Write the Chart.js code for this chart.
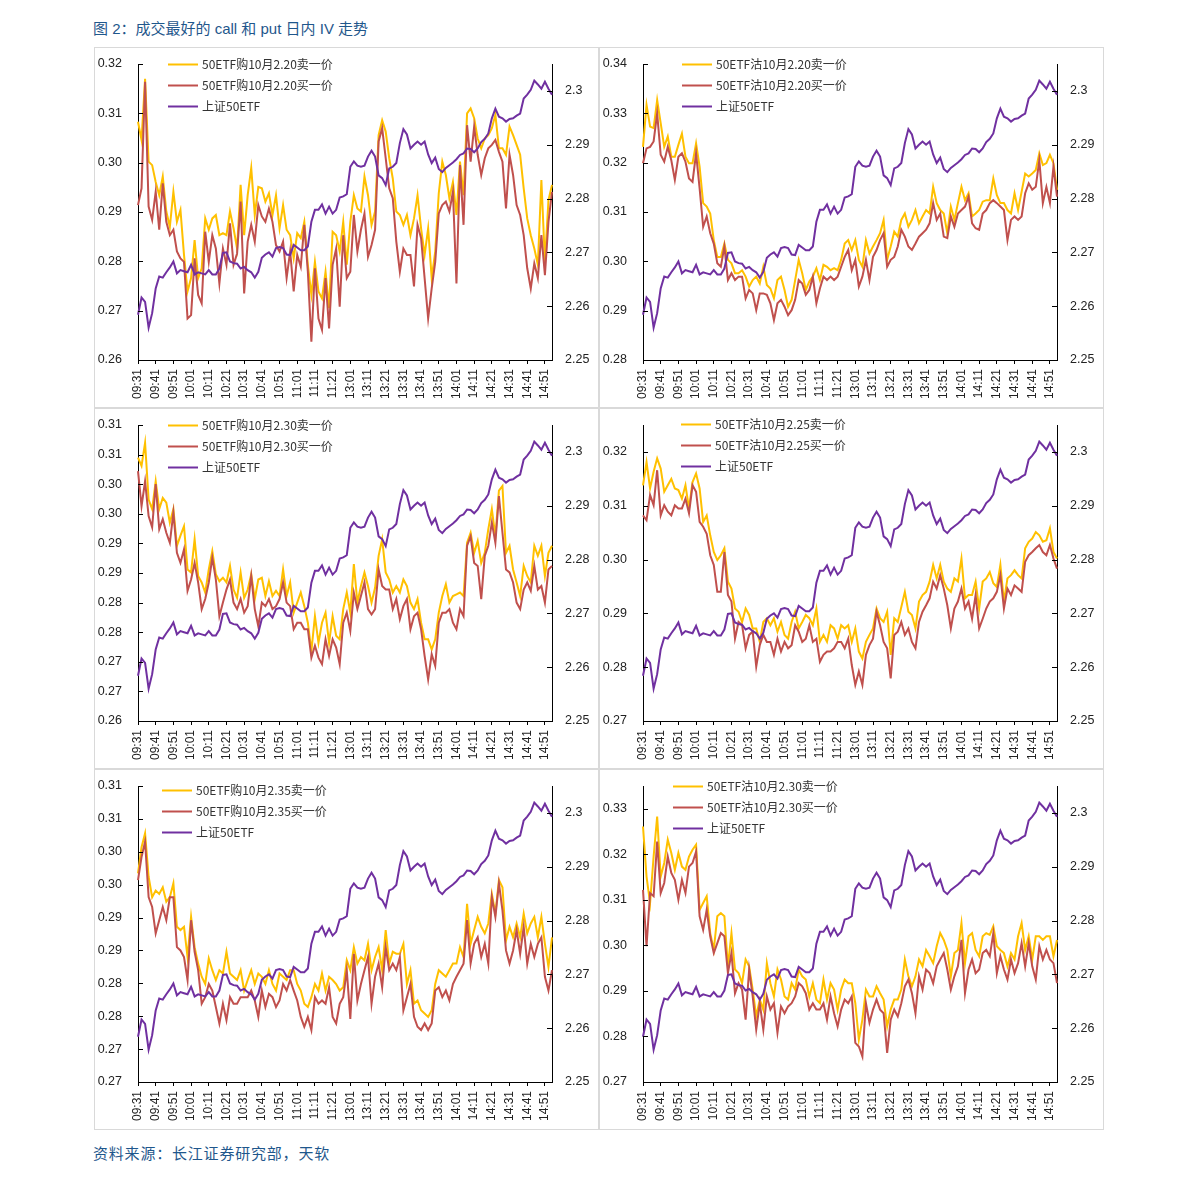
<!DOCTYPE html>
<html>
<head>
<meta charset="utf-8">
<script src="https://cdn.jsdelivr.net/npm/chart.js@4.4.0/dist/chart.umd.min.js"></script>
<style>
  body { margin: 0; background: #fff; width: 1191px; height: 1181px; position: relative;
         font-family: "Liberation Sans", "Noto Sans CJK SC", sans-serif; }
  #title { position: absolute; left: 93px; top: 17px; font-size: 15px; color: #1f578c; white-space: nowrap; }
  #source { position: absolute; left: 93px; top: 1142px; font-size: 15px; letter-spacing: 0.8px; color: #1f578c; white-space: nowrap; }
  .panel { position: absolute; width: 503px; height: 359px; border: 1px solid #d9d9d9; }
  .panel canvas { position: absolute; left: 0; top: 0; }
</style>
</head>
<body>
<div id="title">图 2：成交最好的 call 和 put 日内 IV 走势</div>
<div class="panel" style="left:94px;top:47px"><canvas id="c1" width="503" height="359"></canvas></div>
<div class="panel" style="left:599px;top:47px"><canvas id="c2" width="503" height="359"></canvas></div>
<div class="panel" style="left:94px;top:408px"><canvas id="c3" width="503" height="359"></canvas></div>
<div class="panel" style="left:599px;top:408px"><canvas id="c4" width="503" height="359"></canvas></div>
<div class="panel" style="left:94px;top:769px"><canvas id="c5" width="503" height="359"></canvas></div>
<div class="panel" style="left:599px;top:769px"><canvas id="c6" width="503" height="359"></canvas></div>
<div id="source">资料来源：长江证券研究部，天软</div>

<script>
// 时间轴：上午 09:31-11:29，下午 13:01-14:55，每 2 分钟一个点
const sessions = [['09:31', 60], ['13:01', 58]];
const times = [];
sessions.forEach(([start, n]) => {
    let [h, m] = start.split(':').map(Number);
    for (let k = 0; k < n; k++) {
        times.push(String(h).padStart(2, '0') + ':' + String(m).padStart(2, '0'));
        m += 2;
        if (m >= 60) { m -= 60; h += 1; }
    }
});

// 上证50ETF（右轴，六张图相同）
const etfName = '上证50ETF';
const etf50 = [2.2584,2.2616,2.2608,2.2560,2.2587,2.2633,2.2655,2.2653,2.2663,2.2672,
2.2683,2.2661,2.2667,2.2665,2.2663,2.2677,2.2659,2.2663,2.2661,2.2659,
2.2667,2.2659,2.2659,2.2670,2.2699,2.2700,2.2683,2.2680,2.2679,2.2670,
2.2673,2.2667,2.2663,2.2653,2.2664,2.2690,2.2696,2.2700,2.2692,2.2708,
2.2710,2.2708,2.2696,2.2695,2.2714,2.2709,2.2704,2.2704,2.2711,2.2757,
2.2779,2.2779,2.2789,2.2772,2.2785,2.2772,2.2779,2.2802,2.2804,2.2808,
2.2859,2.2869,2.2861,2.2859,2.2861,2.2878,2.2889,2.2878,2.2843,2.2838,
2.2825,2.2856,2.2859,2.2866,2.2903,2.2929,2.2919,2.2893,2.2900,2.2906,
2.2900,2.2906,2.2882,2.2866,2.2876,2.2855,2.2849,2.2857,2.2862,2.2867,
2.2873,2.2881,2.2884,2.2893,2.2892,2.2886,2.2893,2.2905,2.2911,2.2921,
2.2949,2.2967,2.2952,2.2949,2.2943,2.2948,2.2949,2.2954,2.2958,2.2986,
2.2993,2.3002,2.3019,2.3012,2.3004,2.3017,2.3004,2.2993];
const etfTicks = [2.25, 2.26, 2.27, 2.28, 2.29, 2.30];

// 图1：购10月2.20
const p1Names = ['50ETF购10月2.20卖一价', '50ETF购10月2.20买一价'];
const p1Sell = [0.3083,0.3046,0.3170,0.3002,0.2995,0.2961,0.2934,0.2972,0.2901,0.2870,
0.2941,0.2880,0.2904,0.2813,0.2739,0.2766,0.2843,0.2766,0.2786,0.2887,
0.2864,0.2887,0.2894,0.2853,0.2857,0.2853,0.2901,0.2867,0.2826,0.2955,
0.2853,0.2934,0.2989,0.2894,0.2951,0.2948,0.2921,0.2938,0.2894,0.2934,
0.2867,0.2914,0.2864,0.2853,0.2806,0.2857,0.2847,0.2880,0.2793,0.2732,
0.2799,0.2739,0.2725,0.2779,0.2705,0.2860,0.2853,0.2820,0.2880,0.2793,
0.2880,0.2934,0.2907,0.2901,0.2972,0.2934,0.2874,0.2901,0.3056,0.3086,
0.3063,0.3009,0.2968,0.2901,0.2894,0.2874,0.2894,0.2853,0.2887,0.2934,
0.2867,0.2813,0.2867,0.2766,0.2820,0.2938,0.3002,0.2975,0.2928,0.2961,
0.2894,0.3002,0.2934,0.3100,0.3110,0.3090,0.3049,0.3029,0.3049,0.3056,
0.3070,0.3097,0.3029,0.3029,0.3016,0.3073,0.3056,0.3036,0.3016,0.2948,
0.2887,0.2853,0.2826,0.2793,0.2965,0.2799,0.2924,0.2955];
const p1Buy = [0.2914,0.2948,0.3164,0.2911,0.2884,0.2941,0.2864,0.2958,0.2880,0.2853,
0.2864,0.2820,0.2806,0.2799,0.2684,0.2691,0.2806,0.2732,0.2715,0.2860,
0.2799,0.2853,0.2826,0.2755,0.2826,0.2793,0.2877,0.2793,0.2816,0.2921,
0.2735,0.2840,0.2874,0.2840,0.2914,0.2891,0.2880,0.2907,0.2880,0.2833,
0.2820,0.2840,0.2766,0.2820,0.2739,0.2813,0.2789,0.2874,0.2779,0.2637,
0.2786,0.2684,0.2661,0.2766,0.2664,0.2793,0.2826,0.2708,0.2853,0.2766,
0.2779,0.2894,0.2820,0.2864,0.2897,0.2809,0.2833,0.2864,0.3043,0.3070,
0.3009,0.2948,0.2928,0.2840,0.2779,0.2826,0.2813,0.2813,0.2749,0.2874,
0.2847,0.2766,0.2684,0.2745,0.2799,0.2897,0.2914,0.2921,0.2901,0.2941,
0.2755,0.2995,0.2874,0.3076,0.3002,0.3073,0.3016,0.2975,0.3009,0.3029,
0.3036,0.3046,0.3022,0.3002,0.2907,0.3016,0.2975,0.2914,0.2894,0.2853,
0.2786,0.2745,0.2796,0.2766,0.2853,0.2772,0.2880,0.2941];
const p1Ticks = [0.26, 0.27, 0.28, 0.29, 0.30, 0.31, 0.32];

// 图2：沽10月2.20
const p2Names = ['50ETF沽10月2.20卖一价', '50ETF沽10月2.20买一价'];
const p2Sell = [0.3232,0.3317,0.3273,0.3270,0.3327,0.3280,0.3232,0.3253,0.3212,0.3212,
0.3236,0.3259,0.3212,0.3199,0.3199,0.3239,0.3192,0.3118,0.3111,0.3097,
0.3043,0.3009,0.3009,0.3036,0.3003,0.2996,0.2976,0.2976,0.2982,0.2969,
0.2949,0.2962,0.2969,0.2955,0.2989,0.2952,0.2945,0.2925,0.2962,0.2969,
0.2942,0.2908,0.2922,0.2962,0.3003,0.2976,0.2942,0.2959,0.2969,0.2986,
0.2962,0.2993,0.2989,0.2982,0.2986,0.2982,0.3003,0.3036,0.3043,0.3023,
0.3043,0.3003,0.2989,0.3043,0.3016,0.3030,0.3043,0.3057,0.3084,0.3003,
0.3030,0.3060,0.3050,0.3084,0.3097,0.3070,0.3084,0.3104,0.3077,0.3091,
0.3104,0.3097,0.3151,0.3118,0.3104,0.3097,0.3057,0.3111,0.3084,0.3118,
0.3151,0.3124,0.3138,0.3091,0.3097,0.3104,0.3121,0.3124,0.3124,0.3168,
0.3134,0.3118,0.3118,0.3104,0.3097,0.3138,0.3104,0.3141,0.3178,0.3172,
0.3178,0.3185,0.3219,0.3195,0.3199,0.3216,0.3199,0.3145];
const p2Buy = [0.3199,0.3229,0.3232,0.3243,0.3300,0.3216,0.3202,0.3232,0.3205,0.3165,
0.3212,0.3219,0.3202,0.3168,0.3161,0.3219,0.3148,0.3070,0.3091,0.3057,
0.3036,0.2996,0.2989,0.3030,0.2962,0.2976,0.2962,0.2969,0.2969,0.2925,
0.2942,0.2935,0.2901,0.2935,0.2935,0.2932,0.2915,0.2881,0.2915,0.2922,
0.2908,0.2891,0.2901,0.2922,0.2962,0.2955,0.2932,0.2942,0.2969,0.2915,
0.2945,0.2969,0.2962,0.2969,0.2962,0.2969,0.2989,0.3009,0.3023,0.2982,
0.3003,0.2949,0.2969,0.3003,0.2962,0.3009,0.3023,0.3043,0.3057,0.2989,
0.3003,0.3009,0.3030,0.3064,0.3050,0.3030,0.3023,0.3036,0.3050,0.3057,
0.3064,0.3077,0.3118,0.3084,0.3097,0.3050,0.3047,0.3091,0.3070,0.3097,
0.3104,0.3111,0.3131,0.3077,0.3067,0.3064,0.3097,0.3104,0.3118,0.3124,
0.3118,0.3111,0.3104,0.3043,0.3084,0.3091,0.3084,0.3091,0.3138,0.3158,
0.3145,0.3151,0.3205,0.3118,0.3151,0.3118,0.3192,0.3131];
const p2Ticks = [0.28, 0.29, 0.30, 0.31, 0.32, 0.33, 0.34];

// 图3：购10月2.30
const p3Names = ['50ETF购10月2.30卖一价', '50ETF购10月2.30买一价'];
const p3Sell = [0.3045,0.3031,0.3070,0.2974,0.2958,0.3005,0.2958,0.2977,0.2969,0.2935,
0.2958,0.2896,0.2913,0.2929,0.2856,0.2851,0.2907,0.2845,0.2834,0.2817,
0.2856,0.2887,0.2848,0.2836,0.2842,0.2834,0.2862,0.2822,0.2808,0.2851,
0.2808,0.2822,0.2848,0.2806,0.2839,0.2842,0.2811,0.2836,0.2811,0.2820,
0.2811,0.2856,0.2811,0.2834,0.2783,0.2800,0.2817,0.2794,0.2766,0.2718,
0.2777,0.2732,0.2766,0.2783,0.2732,0.2777,0.2744,0.2738,0.2789,0.2817,
0.2783,0.2865,0.2800,0.2828,0.2851,0.2828,0.2800,0.2825,0.2879,0.2907,
0.2851,0.2839,0.2817,0.2828,0.2817,0.2839,0.2828,0.2800,0.2789,0.2806,
0.2766,0.2738,0.2738,0.2721,0.2738,0.2783,0.2811,0.2831,0.2800,0.2811,
0.2814,0.2817,0.2811,0.2901,0.2918,0.2884,0.2904,0.2867,0.2884,0.2924,
0.2958,0.2912,0.2989,0.2997,0.2884,0.2896,0.2856,0.2834,0.2811,0.2862,
0.2845,0.2834,0.2896,0.2879,0.2896,0.2845,0.2884,0.2896];
const p3Buy = [0.3022,0.2963,0.3005,0.2946,0.2927,0.3000,0.2924,0.2941,0.2918,0.2901,
0.2952,0.2884,0.2867,0.2890,0.2820,0.2839,0.2867,0.2834,0.2789,0.2806,
0.2834,0.2876,0.2839,0.2777,0.2800,0.2822,0.2839,0.2800,0.2789,0.2806,
0.2783,0.2794,0.2845,0.2789,0.2760,0.2800,0.2794,0.2806,0.2789,0.2794,
0.2806,0.2834,0.2800,0.2794,0.2755,0.2766,0.2766,0.2755,0.2755,0.2707,
0.2727,0.2707,0.2696,0.2738,0.2710,0.2738,0.2724,0.2696,0.2766,0.2783,
0.2752,0.2817,0.2789,0.2811,0.2834,0.2789,0.2780,0.2789,0.2856,0.2828,
0.2822,0.2822,0.2789,0.2806,0.2772,0.2794,0.2806,0.2755,0.2777,0.2783,
0.2755,0.2710,0.2670,0.2713,0.2693,0.2766,0.2783,0.2783,0.2789,0.2766,
0.2755,0.2789,0.2777,0.2896,0.2912,0.2867,0.2862,0.2806,0.2879,0.2896,
0.2935,0.2901,0.2980,0.2918,0.2856,0.2851,0.2834,0.2800,0.2789,0.2822,
0.2834,0.2820,0.2862,0.2822,0.2828,0.2800,0.2856,0.2862];
const p3Ticks = [0.26, 0.265, 0.27, 0.275, 0.28, 0.285, 0.29, 0.295, 0.30, 0.305, 0.31];

// 图4：沽10月2.25
const p4Names = ['50ETF沽10月2.25卖一价', '50ETF沽10月2.25买一价'];
const p4Sell = [0.3138,0.3181,0.3132,0.3163,0.3188,0.3169,0.3126,0.3138,0.3150,0.3132,
0.3129,0.3113,0.3138,0.3095,0.3144,0.3160,0.3132,0.3070,0.3082,0.3045,
0.3014,0.2999,0.3008,0.3021,0.2959,0.2946,0.2909,0.2903,0.2884,0.2909,
0.2897,0.2872,0.2872,0.2847,0.2884,0.2891,0.2878,0.2891,0.2866,0.2884,
0.2860,0.2853,0.2884,0.2903,0.2872,0.2884,0.2897,0.2891,0.2878,0.2909,
0.2847,0.2860,0.2847,0.2878,0.2872,0.2853,0.2878,0.2872,0.2878,0.2847,
0.2872,0.2829,0.2816,0.2847,0.2860,0.2872,0.2909,0.2891,0.2884,0.2903,
0.2823,0.2891,0.2884,0.2912,0.2940,0.2903,0.2897,0.2872,0.2922,0.2934,
0.2940,0.2959,0.2990,0.2965,0.2990,0.2959,0.2946,0.2940,0.2965,0.2959,
0.3002,0.2928,0.2934,0.2934,0.2959,0.2909,0.2959,0.2965,0.2977,0.2956,
0.2949,0.2990,0.2922,0.2965,0.2971,0.2980,0.2971,0.2965,0.3021,0.3033,
0.3039,0.3051,0.3045,0.3033,0.3036,0.3058,0.3014,0.3002];
const p4Buy = [0.3082,0.3073,0.3120,0.3101,0.3166,0.3082,0.3101,0.3089,0.3082,0.3101,
0.3095,0.3095,0.3113,0.3086,0.3138,0.3126,0.3070,0.3061,0.3048,0.3008,
0.2990,0.2940,0.2940,0.3014,0.2934,0.2922,0.2853,0.2884,0.2878,0.2835,
0.2860,0.2866,0.2801,0.2841,0.2860,0.2847,0.2847,0.2823,0.2853,0.2829,
0.2847,0.2835,0.2841,0.2878,0.2866,0.2847,0.2853,0.2878,0.2847,0.2853,
0.2810,0.2823,0.2829,0.2829,0.2835,0.2847,0.2847,0.2835,0.2853,0.2804,
0.2767,0.2792,0.2767,0.2823,0.2841,0.2853,0.2903,0.2878,0.2847,0.2835,
0.2779,0.2860,0.2866,0.2884,0.2860,0.2872,0.2847,0.2835,0.2884,0.2903,
0.2915,0.2928,0.2959,0.2946,0.2971,0.2946,0.2915,0.2872,0.2909,0.2922,
0.2946,0.2909,0.2922,0.2890,0.2934,0.2872,0.2890,0.2909,0.2922,0.2928,
0.2940,0.2971,0.2909,0.2946,0.2934,0.2952,0.2946,0.2940,0.2996,0.3008,
0.3014,0.3021,0.3027,0.3014,0.3008,0.3027,0.3002,0.2983];
const p4Ticks = [0.27, 0.28, 0.29, 0.30, 0.31, 0.32];

// 图5：购10月2.35
const p5Names = ['50ETF购10月2.35卖一价', '50ETF购10月2.35买一价'];
const p5Sell = [0.2967,0.3007,0.3028,0.2962,0.2931,0.2941,0.2936,0.2946,0.2924,0.2931,
0.2952,0.2886,0.2881,0.2886,0.2840,0.2901,0.2855,0.2830,0.2810,0.2799,
0.2838,0.2820,0.2805,0.2820,0.2815,0.2848,0.2815,0.2810,0.2805,0.2820,
0.2789,0.2805,0.2820,0.2799,0.2815,0.2810,0.2799,0.2820,0.2799,0.2789,
0.2815,0.2810,0.2805,0.2820,0.2820,0.2799,0.2789,0.2769,0.2764,0.2779,
0.2799,0.2789,0.2815,0.2789,0.2810,0.2805,0.2799,0.2789,0.2794,0.2835,
0.2820,0.2855,0.2830,0.2840,0.2835,0.2860,0.2820,0.2840,0.2855,0.2820,
0.2881,0.2830,0.2848,0.2845,0.2845,0.2860,0.2799,0.2820,0.2769,0.2774,
0.2759,0.2754,0.2749,0.2759,0.2799,0.2820,0.2815,0.2810,0.2820,0.2830,
0.2830,0.2855,0.2840,0.2921,0.2860,0.2881,0.2901,0.2886,0.2876,0.2891,
0.2936,0.2906,0.2957,0.2946,0.2865,0.2886,0.2870,0.2891,0.2870,0.2906,
0.2876,0.2891,0.2901,0.2870,0.2901,0.2860,0.2825,0.2870];
const p5Buy = [0.2957,0.2992,0.3015,0.2931,0.2916,0.2876,0.2896,0.2916,0.2896,0.2931,
0.2931,0.2855,0.2850,0.2840,0.2805,0.2896,0.2848,0.2820,0.2769,0.2779,
0.2799,0.2789,0.2764,0.2739,0.2769,0.2744,0.2779,0.2769,0.2769,0.2779,
0.2779,0.2779,0.2789,0.2774,0.2749,0.2789,0.2764,0.2784,0.2779,0.2764,
0.2774,0.2799,0.2789,0.2805,0.2789,0.2774,0.2749,0.2734,0.2749,0.2729,
0.2779,0.2769,0.2774,0.2769,0.2794,0.2749,0.2739,0.2769,0.2779,0.2820,
0.2746,0.2845,0.2774,0.2799,0.2820,0.2840,0.2769,0.2810,0.2830,0.2794,
0.2855,0.2820,0.2830,0.2820,0.2840,0.2759,0.2779,0.2799,0.2749,0.2734,
0.2729,0.2739,0.2729,0.2739,0.2789,0.2794,0.2779,0.2789,0.2774,0.2799,
0.2810,0.2820,0.2830,0.2896,0.2830,0.2860,0.2870,0.2840,0.2860,0.2830,
0.2931,0.2901,0.2952,0.2911,0.2850,0.2830,0.2850,0.2881,0.2845,0.2886,
0.2830,0.2860,0.2840,0.2860,0.2870,0.2810,0.2789,0.2820];
const p5Ticks = [0.265, 0.27, 0.275, 0.28, 0.285, 0.29, 0.295, 0.30, 0.305, 0.31];

// 图6：沽10月2.30
const p6Names = ['50ETF沽10月2.30卖一价', '50ETF沽10月2.30买一价'];
const p6Sell = [0.3261,0.3151,0.3093,0.3195,0.3283,0.3151,0.3181,0.3232,0.3203,0.3166,
0.3203,0.3173,0.3166,0.3195,0.3210,0.3221,0.3078,0.3093,0.3108,0.3027,
0.2990,0.3064,0.3071,0.3064,0.2954,0.3027,0.2947,0.2939,0.2917,0.2969,
0.2954,0.2903,0.2844,0.2881,0.2859,0.2961,0.2917,0.2888,0.2947,0.2925,
0.2888,0.2881,0.2917,0.2903,0.2947,0.2932,0.2925,0.2888,0.2917,0.2881,
0.2873,0.2925,0.2881,0.2917,0.2903,0.2859,0.2903,0.2925,0.2917,0.2917,
0.2873,0.2793,0.2837,0.2903,0.2888,0.2888,0.2910,0.2895,0.2881,0.2822,
0.2859,0.2881,0.2881,0.2903,0.2969,0.2932,0.2910,0.2932,0.2969,0.2954,
0.2990,0.2976,0.2961,0.2998,0.3027,0.3012,0.2990,0.2932,0.2983,0.2990,
0.3049,0.2961,0.3020,0.3027,0.2990,0.2976,0.3020,0.3027,0.3023,0.3042,
0.2998,0.2990,0.2983,0.2954,0.2983,0.2969,0.3020,0.3049,0.2990,0.3020,
0.2969,0.3020,0.3020,0.3012,0.3020,0.3020,0.2976,0.3012];
const p6Buy = [0.3122,0.2998,0.3115,0.3108,0.3228,0.3115,0.3137,0.3195,0.3159,0.3144,
0.3100,0.3144,0.3115,0.3173,0.3181,0.3206,0.3064,0.3034,0.3078,0.3020,
0.2983,0.3005,0.3027,0.3020,0.2939,0.2983,0.2895,0.2917,0.2903,0.2837,
0.2947,0.2888,0.2815,0.2873,0.2815,0.2888,0.2859,0.2873,0.2808,0.2866,
0.2851,0.2866,0.2873,0.2888,0.2917,0.2910,0.2895,0.2859,0.2873,0.2859,
0.2859,0.2873,0.2837,0.2888,0.2851,0.2822,0.2859,0.2881,0.2873,0.2888,
0.2786,0.2778,0.2756,0.2873,0.2830,0.2859,0.2881,0.2859,0.2851,0.2764,
0.2837,0.2859,0.2844,0.2873,0.2910,0.2925,0.2895,0.2851,0.2932,0.2903,
0.2947,0.2939,0.2917,0.2954,0.2969,0.2983,0.2947,0.2903,0.2932,0.2954,
0.3012,0.2895,0.2947,0.2969,0.2939,0.2947,0.2983,0.2990,0.2976,0.3027,
0.2939,0.2976,0.2947,0.2925,0.2969,0.2939,0.2961,0.3005,0.2954,0.3005,
0.2954,0.2925,0.2998,0.2969,0.2990,0.2969,0.2961,0.2917];
const p6Ticks = [0.27, 0.28, 0.29, 0.30, 0.31, 0.32, 0.33];

// 图内图例
const insetLegend = {
    id: 'insetLegend',
    afterDraw(chart, args, opts) {
        const ctx = chart.ctx;
        const area = chart.chartArea;
        ctx.save();
        ctx.font = '12px "Noto Sans CJK SC", sans-serif';
        ctx.textBaseline = 'middle';
        chart.data.datasets.forEach((ds, i) => {
            const x = area.left + opts.dx;
            const y = Math.round(area.top + opts.dy + i * 21) + 0.5;
            ctx.strokeStyle = ds.borderColor;
            ctx.lineWidth = 2;
            ctx.beginPath();
            ctx.moveTo(x, y);
            ctx.lineTo(x + 30, y);
            ctx.stroke();
            ctx.fillStyle = '#333';
            ctx.fillText(ds.label, x + 34, y);
        });
        ctx.restore();
    }
};

// 纵轴内侧刻度线
const innerTicks = {
    id: 'innerTicks',
    afterDraw(chart) {
        const ctx = chart.ctx;
        const a = chart.chartArea;
        ctx.save();
        ctx.strokeStyle = '#000';
        ctx.lineWidth = 1;
        [['y', a.left, 5], ['y2', a.right, -5]].forEach(([id, x0, d]) => {
            const sc = chart.scales[id];
            sc.ticks.forEach(t => {
                const y = Math.round(sc.getPixelForValue(t.value)) + 0.5;
                ctx.beginPath();
                ctx.moveTo(x0, y);
                ctx.lineTo(x0 + d, y);
                ctx.stroke();
            });
        });
        ctx.restore();
    }
};

const tickFont = { family: '"Liberation Sans", Arial, sans-serif', size: 12.5 };

// 纵轴宽度固定，并去掉标签带来的上下留白
function fixWidth(w) {
    return s => {
        s.width = w;
        s.paddingTop = 0;
        s.paddingBottom = 0;
    };
}

function makeChart(id, names, sell, buy, yMin, yMax, yTicks, dx, dy) {
    new Chart(document.getElementById(id), {
        type: 'line',
        data: {
            labels: times,
            datasets: [
                { label: names[0], data: sell, borderColor: '#FFC000', borderWidth: 2, pointRadius: 0, yAxisID: 'y', order: 3 },
                { label: names[1], data: buy, borderColor: '#C0504D', borderWidth: 2, pointRadius: 0, yAxisID: 'y', order: 2 },
                { label: etfName, data: etf50, borderColor: '#7030A0', borderWidth: 2, pointRadius: 0, yAxisID: 'y2', order: 1 }
            ]
        },
        options: {
            responsive: false,
            animation: false,
            devicePixelRatio: 1,
            layout: { padding: { top: 16, left: 0, right: 0, bottom: 0 } },
            plugins: {
                legend: { display: false },
                tooltip: { enabled: false },
                insetLegend: { dx: dx, dy: dy }
            },
            scales: {
                x: {
                    type: 'category',
                    offset: false,
                    grid: { display: true, drawOnChartArea: false, drawTicks: true, tickLength: 4, color: '#000' },
                    border: { display: true, color: '#000', width: 1 },
                    ticks: { autoSkip: false, maxRotation: 90, minRotation: 90, padding: 5, color: '#222',
                             font: { family: '"Liberation Sans", Arial, sans-serif', size: 12 } },
                    afterBuildTicks: s => { s.ticks = s.ticks.filter(t => t.value % 5 === 0); },
                    afterFit: s => { s.height = 47; }
                },
                y: {
                    position: 'left',
                    min: yMin,
                    max: yMax,
                    grid: { display: false, drawTicks: false },
                    border: { display: true, color: '#000', width: 1 },
                    ticks: { padding: 16, color: '#222', font: tickFont,
                             callback: v => (Math.round(v * 100 + 1e-6) / 100).toFixed(2) },
                    afterBuildTicks: s => { s.ticks = yTicks.map(v => ({ value: v })); },
                    afterFit: fixWidth(43)
                },
                y2: {
                    position: 'right',
                    min: 2.25,
                    max: 2.305,
                    grid: { display: false, drawTicks: false },
                    border: { display: true, color: '#000', width: 1 },
                    ticks: { padding: 13, color: '#222', font: tickFont,
                             callback: v => String(parseFloat(v.toFixed(2))) },
                    afterBuildTicks: s => { s.ticks = etfTicks.map(v => ({ value: v })); },
                    afterFit: fixWidth(46)
                }
            }
        },
        plugins: [insetLegend, innerTicks]
    });
}

makeChart('c1', p1Names, p1Sell, p1Buy, 0.26, 0.32, p1Ticks, 30, 0);
makeChart('c2', p2Names, p2Sell, p2Buy, 0.28, 0.34, p2Ticks, 39, 0);
makeChart('c3', p3Names, p3Sell, p3Buy, 0.26, 0.31, p3Ticks, 30, 0);
makeChart('c4', p4Names, p4Sell, p4Buy, 0.27, 0.325, p4Ticks, 38, -1);
makeChart('c5', p5Names, p5Sell, p5Buy, 0.265, 0.31, p5Ticks, 24, 4);
makeChart('c6', p6Names, p6Sell, p6Buy, 0.27, 0.335, p6Ticks, 30, 0);
</script>
</body>
</html>
